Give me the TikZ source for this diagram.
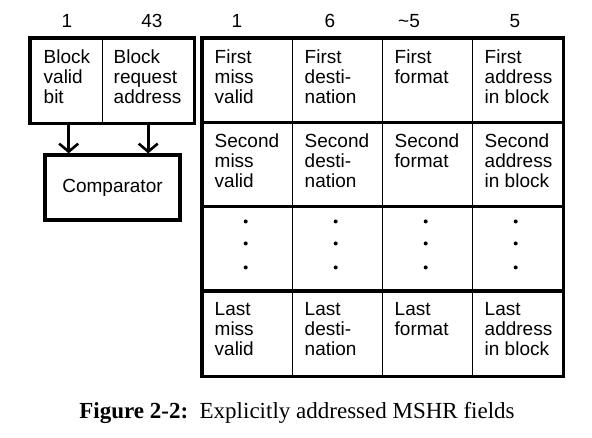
\documentclass[tikz,border=0pt]{standalone}
\usepackage{fontspec}
\setmainfont{Liberation Sans}
\newfontfamily\capfont{Liberation Serif}
\usetikzlibrary{positioning, arrows.meta}

\tikzset{
  cell/.style={draw, line width=1.4pt, anchor=north west, inner xsep=0pt,
    inner ysep=11pt, minimum width=90pt, minimum height=84.3pt,
    font=\fontsize{19}{20}\selectfont},
  thickline/.style={line width=3.3pt},
  bits/.style={anchor=base, font=\fontsize{19}{20}\selectfont},
  feed/.style={line width=2.6pt, -{Straight Barb[length=8pt, width=19pt]}},
}
\newcommand{\celltext}[2][66pt]{\parbox[c][62pt][t]{#1}{#2}}

\begin{document}
\begin{tikzpicture}[x=1pt, y=-1pt]
  \useasboundingbox (0,0) rectangle (592,437);

  % request side: block valid bit and block request address
  \node[cell, minimum width=72pt] (bl1) at (30,38) {\celltext[46pt]{Block\\valid\\bit}};
  \node[cell, minimum width=91pt] (bl2) at (102,38) {\celltext[69pt]{Block\\request\\address}};
  \draw[thickline] (bl1.north west) rectangle (bl2.south east);
  \node[bits] (bw1) at (67,27) {1};
  \node[bits] (bw2) at (152,27) {43};

  \node[draw, thickline, minimum width=135pt, minimum height=65pt,
        font=\fontsize{19}{20}\selectfont] (cmp) at (112.5,187.5) {Comparator};
  \draw[feed] ([xshift=2pt]bl1.south) -- ([xshift=2pt]bl1.south |- cmp.north);
  \draw[feed] (bl2.south) -- (bl2.south |- cmp.north);

  % MSHR fields
  \foreach \word/\r/\y in {First/1/38, Second/2/122.3, Last/4/290.9}{
    \node[cell] (c\r1) at (202,\y) {\celltext{\word\\miss\\valid}};
    \node[cell] (c\r2) at (292,\y) {\celltext{\word\\desti-\\nation}};
    \node[cell] (c\r3) at (382,\y) {\celltext{\word\\format}};
    \node[cell] (c\r4) at (472,\y) {\celltext{\word\\address\\in block}};
  }
  \foreach \c in {1,...,4}{
    \node[cell] (c3\c) at ({202+90*(\c-1)},206.6) {};
    \foreach \d in {28,6,-18}
      \fill ([xshift=-2pt, yshift=\d pt]c3\c.center) circle (2pt);
  }
  \draw[thickline] (c11.north west) rectangle (c44.south east);
  \foreach \r in {2,3,4}
    \draw[thickline] (c\r1.north west) -- (c\r4.north east);

  \node[bits] (fw1) at (237,27) {1};
  \node[bits] (fw2) at (330,27) {6};
  \node[bits] (fw3) at (409,27) {\textasciitilde 5};
  \node[bits] (fw4) at (515,27) {5};

  \node[anchor=base, font=\capfont\fontsize{23}{26}\selectfont] (cap) at (297,418)
    {\textbf{Figure 2-2:}\ \ Explicitly addressed MSHR fields};
\end{tikzpicture}
\end{document}
